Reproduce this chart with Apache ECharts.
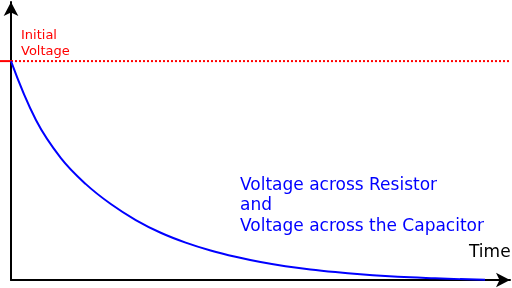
<!DOCTYPE html>
<html>
<head>
<meta charset="utf-8">
<script src="https://cdn.jsdelivr.net/npm/echarts@6/dist/echarts.min.js"></script>
<style>
  html, body { margin: 0; padding: 0; background: #fff; }
  #chart { width: 512px; height: 288px; }
</style>
</head>
<body>
<div id="chart"></div>
<script>
// time (arbitrary units) and voltage as a fraction of the initial voltage
var timeVals = [0, 0.25, 0.5, 0.75, 1.0, 1.25, 1.5, 1.75, 2.0, 2.25, 2.5, 2.75, 3.0, 3.25, 3.5, 3.75, 4.0, 4.25, 4.5, 4.75];
var voltVals = [1.0, 0.731, 0.557, 0.438, 0.347, 0.274, 0.216, 0.171, 0.135, 0.106, 0.082, 0.063, 0.048, 0.036, 0.026, 0.018, 0.012, 0.008, 0.004, 0.001];
var initialVoltage = 1.0;
var xMax = 5;
var yMax = 1.27;

var curve = [];
for (var i = 0; i < timeVals.length; i++) {
    curve.push([timeVals[i], voltVals[i]]);
}

var hiddenAxis = {
    show: false,
    splitLine: {show: false}
};

var myChart = echarts.init(document.getElementById('chart'));
var option = {
    animation: false,
    grid: [
        {left: 11, right: 2, top: 2, bottom: 8, containLabel: false},
        {left: 0, width: 11, top: 2, bottom: 8, containLabel: false}
    ],
    xAxis: [{
        type: 'value',
        min: 0,
        max: xMax,
        splitLine: {show: false},
        axisTick: {show: false},
        axisLabel: {show: false},
        axisLine: {
            onZero: false,
            symbol: ['none', 'arrow'],
            symbolSize: [11, 14],
            lineStyle: {color: '#000', width: 2}
        }
    }, Object.assign({type: 'value', gridIndex: 1, min: 0, max: 1}, hiddenAxis)],
    yAxis: [{
        type: 'value',
        min: 0,
        max: yMax,
        splitLine: {show: false},
        axisTick: {show: false},
        axisLabel: {show: false},
        axisLine: {
            onZero: false,
            symbol: ['none', 'arrow'],
            symbolSize: [11, 14],
            lineStyle: {color: '#000', width: 2}
        }
    }, Object.assign({type: 'value', gridIndex: 1, min: 0, max: yMax}, hiddenAxis)],
    series: [
        {
            type: 'line',
            data: [[0, initialVoltage], [xMax, initialVoltage]],
            symbol: 'none',
            z: 1,
            lineStyle: {color: '#ff0000', width: 2, type: [2, 2]}
        },
        {
            type: 'line',
            xAxisIndex: 1,
            yAxisIndex: 1,
            data: [[0, initialVoltage], [1, initialVoltage]],
            symbol: 'none',
            z: 1,
            lineStyle: {color: '#ff0000', width: 2}
        },
        {
            type: 'line',
            data: curve,
            symbol: 'none',
            smooth: 0.4,
            z: 3,
            lineStyle: {color: '#0000ff', width: 2}
        }
    ],
    graphic: [
        {
            type: 'text', left: 21, top: 28,
            style: {text: 'Initial\nVoltage', fill: '#ff0000', fontFamily: 'DejaVu Sans', fontSize: 13, lineHeight: 16}
        },
        {
            type: 'text', left: 240, top: 175,
            style: {
                text: 'Voltage across Resistor\nand\nVoltage across the Capacitor',
                fill: '#0000ff', fontFamily: 'DejaVu Sans', fontSize: 17, lineHeight: 20.5
            }
        },
        {
            type: 'text', left: 469, top: 244,
            style: {text: 'Time', fill: '#000', fontFamily: 'DejaVu Sans', fontSize: 17}
        }
    ]
};
myChart.setOption(option);
</script>
</body>
</html>
